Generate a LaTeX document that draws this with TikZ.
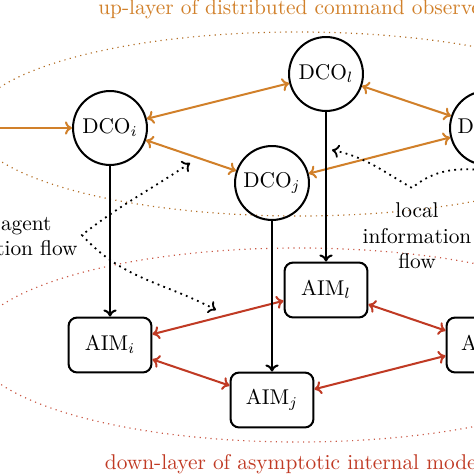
\documentclass[tikz,border=0pt]{standalone}
\usepackage{xcolor}
\usepackage{tikz}
\usetikzlibrary{
  arrows.meta,
}
\definecolor{upcol}{HTML}{D1802A}
\definecolor{downcol}{HTML}{C03A24}

\begin{document}
\begin{tikzpicture}[
    x=0.468pt, y=0.468pt,
    dco/.style={circle, draw=black, line width=0.95pt, minimum size=34.6pt,
                inner sep=0pt},
    aim/.style={rectangle, rounded corners=4pt, draw=black, line width=0.95pt,
                minimum width=38.8pt, minimum height=25.7pt},
    uplink/.style={draw=upcol, line width=0.95pt, <->},
    downlink/.style={draw=downcol, line width=0.95pt, <->},
    feed/.style={draw=black, line width=0.95pt, ->},
    flow/.style={line width=0.85pt, dash pattern=on 0.85pt off 2pt},
    layer/.style={dotted, line width=0.55pt},
    >={To[length=3.3pt,width=6.2pt]},
  ]
  \useasboundingbox (0,0) rectangle (474,-474);
  \clip (0,0) rectangle (474,-474);

  % the two layers
  \draw[layer, draw=upcol!85!black] (298,-124) ellipse [x radius=325, y radius=92];
  \draw[layer, draw=downcol!85] (298,-345) ellipse [x radius=325, y radius=97];
  \node[text=upcol, anchor=base] (uptitle) at (298,-15)
    {up-layer of distributed command observers};
  \node[text=downcol, anchor=base] (downtitle) at (298,-469)
    {down-layer of asymptotic internal models};

  \node[dco] (dcoi) at (110,-128) {$\mathrm{DCO}_i$};
  \node[dco] (dcol) at (326,-74)  {$\mathrm{DCO}_l$};
  \node[dco] (dcoj) at (272,-183) {$\mathrm{DCO}_j$};
  \node[dco] (dcok) at (487,-128) {$\mathrm{DCO}_k$};

  \node[aim] (aimi) at (110,-345) {$\mathrm{AIM}_i$};
  \node[aim] (aiml) at (326,-290) {$\mathrm{AIM}_l$};
  \node[aim] (aimj) at (272,-400) {$\mathrm{AIM}_j$};
  \node[aim] (aimk) at (488,-345) {$\mathrm{AIM}_k$};

  \node[align=center] (interflow) at (1,-236) {inter-agent\\information flow};
  \node[align=center] (localflow) at (417,-236) {local\\information\\flow};

  \coordinate (input) at (-20,-128);
  \coordinate (flowk) at (530,-173);
  \coordinate (apexi) at (82,-235);
  \coordinate (apexl) at (412,-188);
  \coordinate (tipup) at (190,-163);
  \coordinate (tipdown) at (216,-310);
  \coordinate (tipl) at (332,-150);

  \draw[upcol, line width=0.95pt, ->] (input) -- (dcoi);
  \draw[uplink] (dcoi) -- (dcol);
  \draw[uplink] (dcoi) -- (dcoj);
  \draw[uplink] (dcol) -- (dcok);
  \draw[uplink] (dcoj) -- (dcok);

  \draw[downlink] (aimi) -- (aiml);
  \draw[downlink] (aimi) -- (aimj);
  \draw[downlink] (aiml) -- (aimk);
  \draw[downlink] (aimj) -- (aimk);

  \draw[feed] (dcoi) -- (aimi);
  \draw[feed] (dcol) -- (aiml);
  \draw[feed] (dcoj) -- (aimj);

  % information flows
  \draw[flow, <->] (tipup) to[out=-146, in=38] (apexi)
                           to[out=-48, in=152] (tipdown);
  \draw[flow, <-] (tipl) to[out=-12, in=150] (apexl)
                         to[out=40, in=180] (flowk);
\end{tikzpicture}
\end{document}
